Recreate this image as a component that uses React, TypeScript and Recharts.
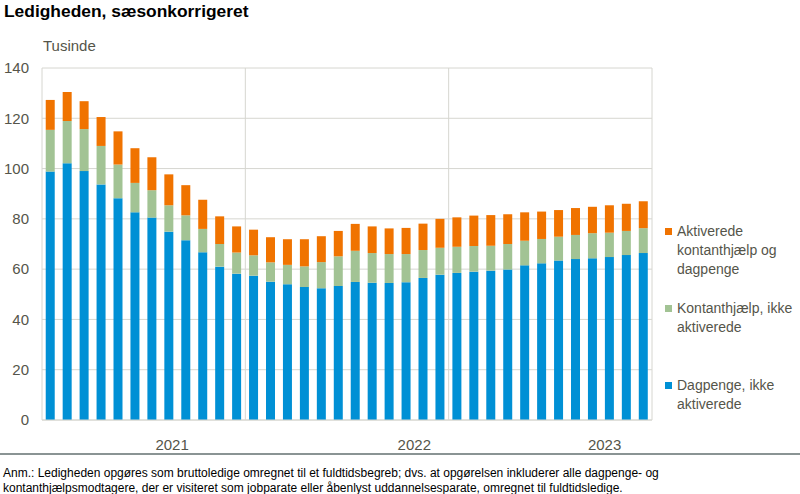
import React from "react"
import { BarChart, Bar, XAxis, YAxis, CartesianGrid, ReferenceLine } from "recharts"

// monthly observations, Jan 2021 - Dec 2023 (thousands)
const months = [
  "jan21", "feb21", "mar21", "apr21", "maj21", "jun21", "jul21", "aug21", "sep21", "okt21", "nov21", "dec21",
  "jan22", "feb22", "mar22", "apr22", "maj22", "jun22", "jul22", "aug22", "sep22", "okt22", "nov22", "dec22",
  "jan23", "feb23", "mar23", "apr23", "maj23", "jun23", "jul23", "aug23", "sep23", "okt23", "nov23", "dec23",
]

const dagpenge = [
  98.8, 102.1, 99.0, 93.7, 88.2, 82.6, 80.5, 74.9, 71.5, 66.7, 61.0, 58.2,
  57.4, 55.0, 54.0, 52.9, 52.4, 53.3, 54.9, 54.6, 54.5, 54.8, 56.5, 57.8,
  58.5, 59.0, 59.4, 59.9, 61.5, 62.3, 63.4, 64.0, 64.3, 64.8, 65.6, 66.4,
]

const kontanthjaelp = [
  16.6, 16.8, 16.7, 15.3, 13.4, 11.7, 10.9, 10.5, 9.9, 9.3, 9.0, 8.4,
  8.1, 7.7, 7.7, 8.2, 10.4, 11.8, 12.4, 11.8, 11.5, 11.2, 11.1, 10.7,
  10.4, 10.2, 9.9, 10.1, 9.8, 9.7, 9.5, 9.6, 10.0, 9.7, 9.6, 9.9,
]

const aktiverede = [
  11.9, 11.6, 11.1, 11.5, 13.2, 13.8, 13.1, 12.3, 12.0, 11.6, 11.0, 10.4,
  10.2, 10.0, 10.2, 10.8, 10.3, 10.1, 10.7, 10.6, 10.2, 10.4, 10.5, 11.5,
  11.7, 12.1, 12.2, 11.8, 11.3, 10.9, 10.6, 10.7, 10.5, 10.9, 10.8, 10.7,
]

const yTicks = [0, 20, 40, 60, 80, 100, 120, 140]

// year labels and the month they sit under (with a small shift in px)
const yearLabels = [
  { month: "aug21", text: "2021", dx: 3 },
  { month: "okt22", text: "2022", dx: 8 },
  { month: "okt23", text: "2023", dx: -5 },
]

const data = months.map((m, i) => ({
  month: m,
  dagpenge: dagpenge[i],
  kontanthjaelp: kontanthjaelp[i],
  aktiverede: aktiverede[i],
}))

const BLUE = "#0090d5"
const GREEN = "#a2c394"
const ORANGE = "#f07300"
const TEXT = "#55554a"
const GRID = "#d6d6d0"
const FONT = "'Liberation Sans', Arial, sans-serif"

const legendItems = [
  { color: ORANGE, lines: ["Aktiverede", "kontanthjælp og", "dagpenge"], top: 222 },
  { color: GREEN, lines: ["Kontanthjælp, ikke", "aktiverede"], top: 299 },
  { color: BLUE, lines: ["Dagpenge, ikke", "aktiverede"], top: 376 },
]

function YearTick(props: any) {
  const { x, y, payload } = props
  const lab = yearLabels.find((l) => l.month === payload.value)
  if (!lab) return null
  return (
    <text x={x + lab.dx} y={y + 22} textAnchor="middle" fontSize={15} fill={TEXT} fontFamily={FONT}>
      {lab.text}
    </text>
  )
}

export default function App() {
  return (
    <div style={{ position: "absolute", left: 0, top: 0, width: 800, height: 494, background: "#fff", fontFamily: FONT }}>
      <div style={{ position: "absolute", left: 4, top: 3, fontSize: 17.4, lineHeight: "17px", fontWeight: "bold", color: "#000" }}>
        Ledigheden, sæsonkorrigeret
      </div>
      <div style={{ position: "absolute", left: 43, top: 38, fontSize: 15, lineHeight: "15px", color: TEXT }}>Tusinde</div>

      <BarChart
        width={800}
        height={494}
        data={data}
        margin={{ top: 68, right: 148, bottom: 44, left: 0 }}
        barCategoryGap="22%"
        style={{ position: "absolute", left: 0, top: 0 }}
      >
        <CartesianGrid vertical={false} stroke={GRID} />
        <XAxis
          dataKey="month"
          height={30}
          interval={0}
          tickLine={false}
          axisLine={{ stroke: GRID }}
          tick={<YearTick />}
        />
        <YAxis
          width={42}
          domain={[0, 140]}
          ticks={yTicks}
          tickLine={false}
          axisLine={false}
          tickSize={0}
          tickMargin={13}
          tick={{ fontSize: 15, fill: TEXT, fontFamily: FONT }}
        />
        <ReferenceLine x={months[0]} position="start" stroke={GRID} />
        <ReferenceLine x={months[12]} position="start" stroke={GRID} />
        <ReferenceLine x={months[24]} position="start" stroke={GRID} />
        <ReferenceLine x={months[35]} position="end" stroke={GRID} />
        <Bar dataKey="dagpenge" stackId="a" fill={BLUE} isAnimationActive={false} />
        <Bar dataKey="kontanthjaelp" stackId="a" fill={GREEN} isAnimationActive={false} />
        <Bar dataKey="aktiverede" stackId="a" fill={ORANGE} isAnimationActive={false} />
      </BarChart>

      {legendItems.map((it) => (
        <div key={it.lines[0]} style={{ position: "absolute", left: 665, top: it.top, fontSize: 14, lineHeight: "19px", color: TEXT }}>
          <span style={{ position: "absolute", left: 0, top: 6, width: 7, height: 7, background: it.color }} />
          <div style={{ marginLeft: 12 }}>
            {it.lines.map((l) => (
              <div key={l}>{l}</div>
            ))}
          </div>
        </div>
      ))}

      <div style={{ position: "absolute", left: 0, top: 453, width: 800, height: 2, background: "#8a9494" }} />
      <div style={{ position: "absolute", left: 3, top: 466, fontSize: 12, lineHeight: "15px", color: "#000" }}>
        Anm.: Ledigheden opgøres som bruttoledige omregnet til et fuldtidsbegreb; dvs. at opgørelsen inkluderer alle dagpenge- og
        <br />
        kontanthjælpsmodtagere, der er visiteret som jobparate eller åbenlyst uddannelsesparate, omregnet til fuldtidsledige.
      </div>
    </div>
  )
}
